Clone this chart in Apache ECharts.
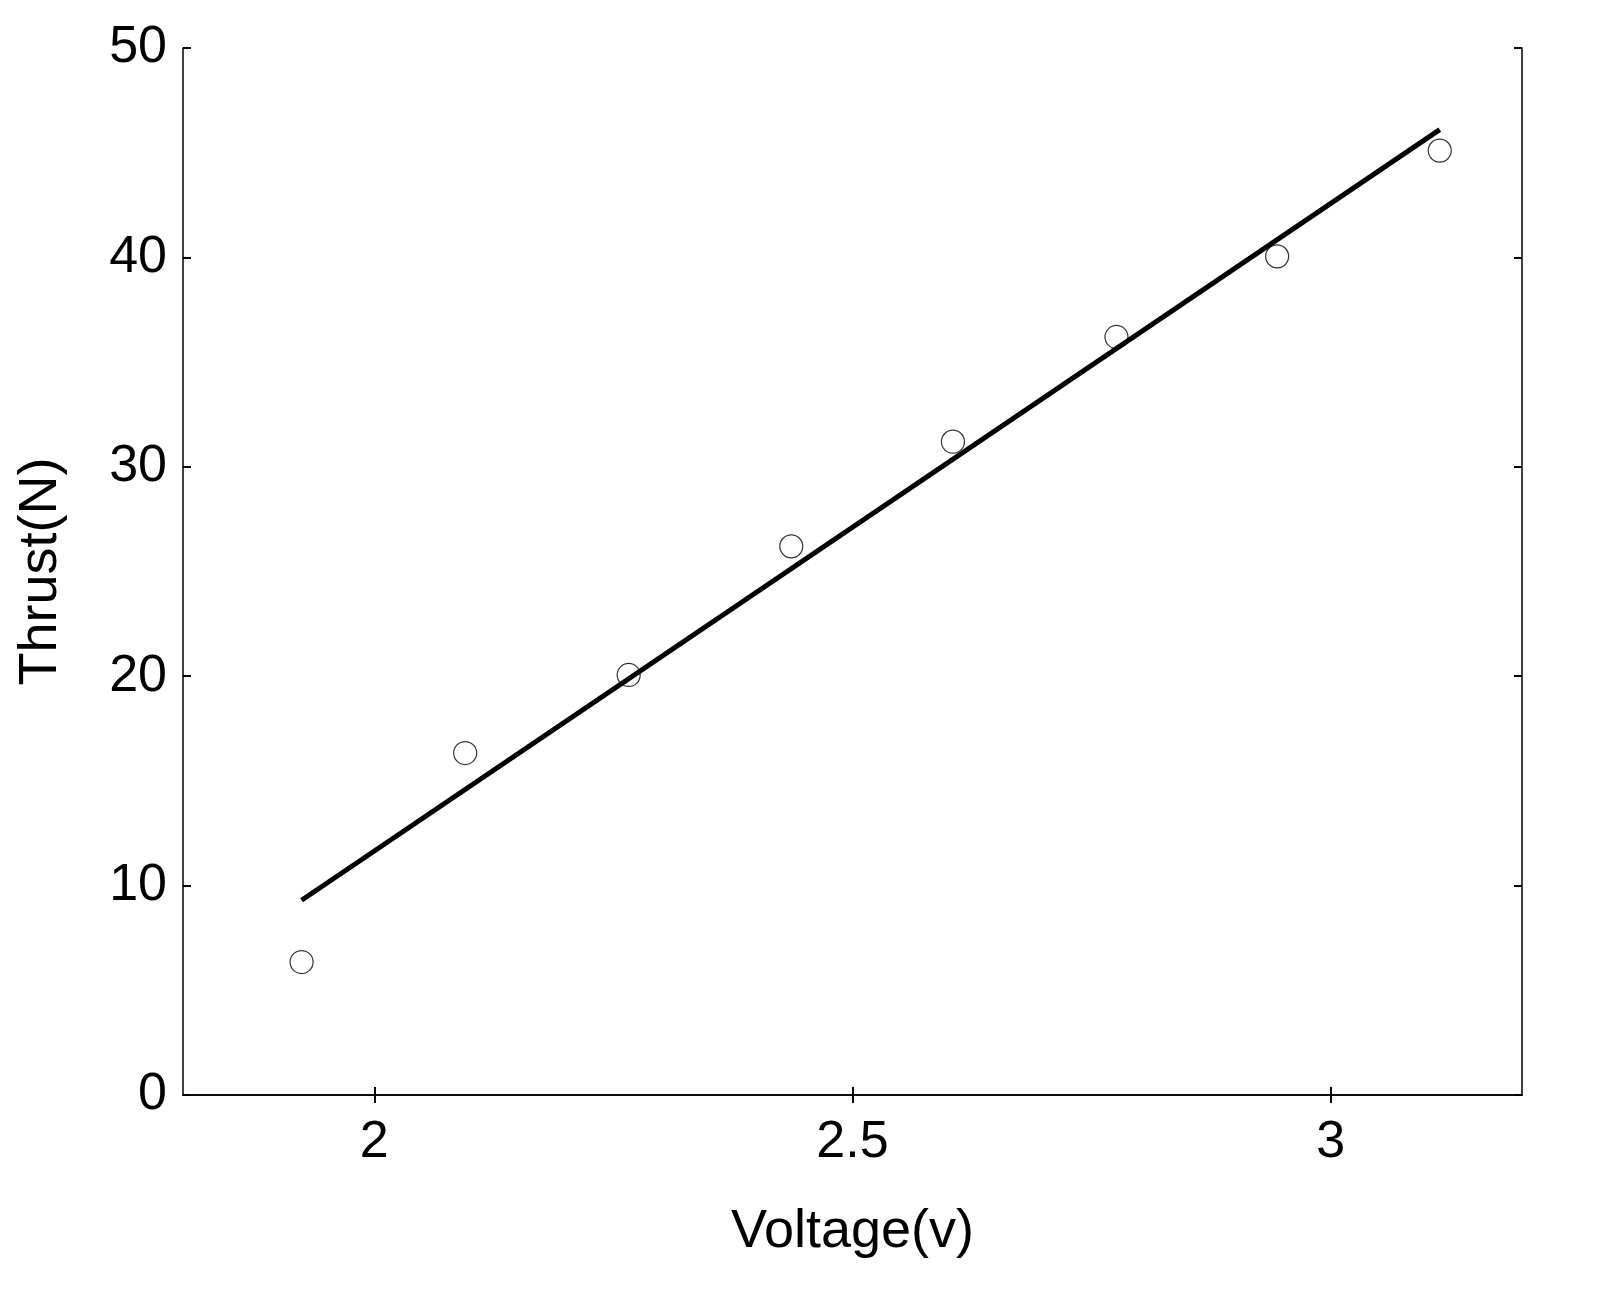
<!DOCTYPE html>
<html><head><meta charset="utf-8">
<script src="https://cdn.jsdelivr.net/npm/echarts@6/dist/echarts.min.js"></script>
<style>html,body{margin:0;background:#fff}#c{width:1599px;height:1293px}</style>
</head><body><div id="c"></div>
<script>
const voltage = [1.924, 2.095, 2.266, 2.436, 2.605, 2.776, 2.944, 3.114];
const thrust = [6.35, 16.33, 20.06, 26.2, 31.2, 36.2, 40.05, 45.1];
const fitLine = [[1.924, 9.3], [3.114, 46.1]];
const xTicks = [2, 2.5, 3];
const font = 'Liberation Sans, Arial, sans-serif';
const chart = echarts.init(document.getElementById('c'));
const axLine = {show: true, lineStyle: {color: '#000', width: 1.5}};
chart.setOption({
  animation: false,
  grid: {left: 183, right: 77, top: 48, bottom: 198},
  xAxis: [{
    type: 'value', min: 1.8, max: 3.2, interval: 0.1,
    name: 'Voltage(v)', nameLocation: 'middle', nameGap: 110,
    nameTextStyle: {fontSize: 54, fontFamily: font, color: '#000'},
    axisLine: axLine, splitLine: {show: false},
    axisTick: {inside: true, length: 8, lineStyle: {color: '#000', width: 2},
      customValues: xTicks},
    axisLabel: {fontSize: 52, fontFamily: font, color: '#000', margin: 22,
      customValues: xTicks, formatter: v => String(v)}
  }, {
    type: 'value', min: 1.8, max: 3.2, position: 'top',
    axisLine: axLine, splitLine: {show: false}, axisLabel: {show: false},
    axisTick: {inside: true, length: 8, lineStyle: {color: '#000', width: 2}, customValues: xTicks}
  }],
  yAxis: [{
    type: 'value', min: 0, max: 50, interval: 10,
    name: 'Thrust(N)', nameLocation: 'middle', nameGap: 115,
    nameTextStyle: {fontSize: 54, fontFamily: font, color: '#000'},
    axisLine: axLine, splitLine: {show: false},
    axisTick: {inside: true, length: 8, lineStyle: {color: '#000', width: 2}},
    axisLabel: {fontSize: 52, fontFamily: font, color: '#000', margin: 16}
  }, {
    type: 'value', min: 0, max: 50, interval: 10, position: 'right',
    axisLine: axLine, splitLine: {show: false}, axisLabel: {show: false},
    axisTick: {inside: true, length: 8, lineStyle: {color: '#000', width: 2}}
  }],
  series: [{
    type: 'line', data: fitLine, symbol: 'none',
    lineStyle: {color: '#000', width: 5}
  }, {
    type: 'scatter', data: voltage.map((v, i) => [v, thrust[i]]),
    symbol: 'circle', symbolSize: 23,
    itemStyle: {color: 'rgba(255,255,255,0)', borderColor: '#000', borderWidth: 1.2}
  }]
});
</script></body></html>
